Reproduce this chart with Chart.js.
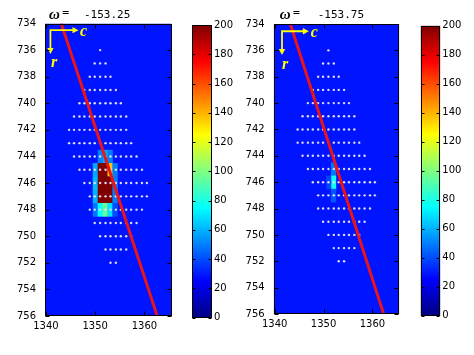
<!DOCTYPE html>
<html>
<head>
<meta charset="utf-8">
<script src="https://cdn.jsdelivr.net/npm/chart.js@4.4.1/dist/chart.umd.min.js"></script>
<style>
html,body{margin:0;padding:0;background:#fff;}
#wrap{position:relative;width:474px;height:355px;overflow:hidden;background:#fff;}
canvas{position:absolute;top:0;}
</style>
</head>
<body>
<div id="wrap">
<canvas id="heatL" width="190" height="355" style="left:0px"></canvas>
<canvas id="cbL" width="62" height="355" style="left:175px"></canvas>
<canvas id="heatR" width="190" height="355" style="left:229px"></canvas>
<canvas id="cbR" width="70" height="355" style="left:404px"></canvas>
</div>
<script>
// ---------------- data ----------------
const omegaValues = ['-153.25', '-153.75'];
const xTicks = [1340, 1350, 1360];
const yTicks = [734, 736, 738, 740, 742, 744, 746, 748, 750, 752, 754, 756];
const colorbarTicks = [0, 20, 40, 60, 80, 100, 120, 140, 160, 180, 200];
const backgroundLevel = 29;

// lattice of predicted spot columns and the rows they occupy
const dotLatticeX = [1344.7, 1345.7, 1346.8, 1347.8, 1348.9, 1349.9, 1351.0, 1352.1,
                     1353.1, 1354.2, 1355.2, 1356.3, 1357.3, 1358.4, 1359.5, 1360.5];
const dotRowY     = [736, 737, 738, 739, 740, 741, 742, 743, 744, 745, 746, 747, 748, 749, 750, 751, 752];
const dotRowFirst = [6, 5, 4, 3, 2, 1, 0, 0, 1, 2, 3, 4, 4, 5, 6, 7, 8];
const dotRowLast  = [6, 7, 8, 9, 10, 11, 11, 12, 13, 14, 15, 15, 14, 13, 12, 11, 9];

// bright cells (column, row, intensity)
const hotLeftX = [1351, 1352, 1353,
                  1350, 1351, 1352, 1353, 1354,
                  1350, 1351, 1352, 1353, 1354,
                  1350, 1351, 1352, 1353, 1354,
                  1350, 1351, 1352, 1353, 1354];
const hotLeftY = [744, 744, 744,
                  745, 745, 745, 745, 745,
                  746, 746, 746, 746, 746,
                  747, 747, 747, 747, 747,
                  748, 748, 748, 748, 748];
const hotLeftV = [50, 58, 50,
                  58, 200, 200, 135, 50,
                  62, 200, 200, 200, 50,
                  60, 200, 200, 200, 50,
                  48, 75, 95, 70, 40];
const hotRightX = [1352, 1352, 1352, 1351];
const hotRightY = [745, 746, 747, 746];
const hotRightV = [48, 78, 42, 38];

// red trace lines
const lineLeftX = [1343.1, 1362.6];
const lineLeftY = [734, 756];
const lineRightX = [1343.2, 1362.3];
const lineRightY = [734, 756];

// ---------------- helpers ----------------
function jet(v) {
  const t = Math.max(0, Math.min(1, v / 200));
  const c = u => Math.round(255 * Math.max(0, Math.min(1, u)));
  return `rgb(${c(1.5 - Math.abs(4 * t - 3))},${c(1.5 - Math.abs(4 * t - 2))},${c(1.5 - Math.abs(4 * t - 1))})`;
}
const TICK_FONT = {family: 'DejaVu Sans', size: 10};

function heatChart(id, p) {
  const dots = [];
  dotRowY.forEach((y, r) => {
    for (let i = dotRowFirst[r]; i <= dotRowLast[r]; i++) dots.push({x: dotLatticeX[i], y: y});
  });
  const line = p.lineX.map((x, i) => ({x: x, y: p.lineY[i]}));

  const plugin = {
    id: 'heat_' + id,
    beforeDatasetsDraw(chart) {
      const {ctx, chartArea: a} = chart;
      const sx = chart.scales.x, sy = chart.scales.y;
      ctx.save();
      ctx.beginPath();
      ctx.rect(a.left, a.top, a.right - a.left, a.bottom - a.top);
      ctx.clip();
      ctx.fillStyle = jet(backgroundLevel);
      ctx.fillRect(a.left, a.top, a.right - a.left, a.bottom - a.top);
      p.cellX.forEach((cx, i) => {
        const x0 = sx.getPixelForValue(cx - 0.5), x1 = sx.getPixelForValue(cx + 0.5);
        const y0 = sy.getPixelForValue(p.cellY[i] - 0.5), y1 = sy.getPixelForValue(p.cellY[i] + 0.5);
        ctx.fillStyle = jet(p.cellV[i]);
        ctx.fillRect(Math.min(x0, x1), Math.min(y0, y1), Math.abs(x1 - x0) + 0.4, Math.abs(y1 - y0) + 0.4);
      });
      ctx.restore();
    },
    afterDatasetsDraw(chart) {
      const {ctx} = chart;
      const sx = chart.scales.x, sy = chart.scales.y;
      const ar = p.arrow;
      const cx = sx.getPixelForValue(ar.x0), cy = sy.getPixelForValue(ar.y0);
      const hx = sx.getPixelForValue(ar.xTip), vy = sy.getPixelForValue(ar.yTip);
      ctx.save();
      ctx.strokeStyle = '#ffff00';
      ctx.fillStyle = '#ffff00';
      ctx.lineWidth = 1.8;
      ctx.beginPath();
      ctx.moveTo(hx - 5, cy); ctx.lineTo(cx, cy); ctx.lineTo(cx, vy - 5);
      ctx.stroke();
      ctx.beginPath();
      ctx.moveTo(hx, cy); ctx.lineTo(hx - 6, cy - 3.2); ctx.lineTo(hx - 6, cy + 3.2); ctx.closePath(); ctx.fill();
      ctx.beginPath();
      ctx.moveTo(cx, vy); ctx.lineTo(cx - 3.2, vy - 6); ctx.lineTo(cx + 3.2, vy - 6); ctx.closePath(); ctx.fill();
      ctx.font = 'italic bold 16px "Liberation Serif"';
      ctx.textBaseline = 'middle';
      ctx.textAlign = 'left';
      ctx.fillText('c', sx.getPixelForValue(ar.cX), sy.getPixelForValue(ar.cY));
      ctx.fillText('r', sx.getPixelForValue(ar.rX), sy.getPixelForValue(ar.rY));
      ctx.restore();
    },
    afterDraw(chart) {
      const {ctx, chartArea: a} = chart;
      const sx = chart.scales.x, sy = chart.scales.y;
      const L = Math.round(a.left) + 0.5, R = Math.round(a.right) - 0.5;
      const T = Math.round(a.top) + 0.5, B = Math.round(a.bottom) - 0.5;
      ctx.save();
      ctx.strokeStyle = '#000';
      ctx.lineWidth = 1;
      ctx.strokeRect(L, T, R - L, B - T);
      ctx.beginPath();
      xTicks.forEach(v => {
        const x = Math.round(sx.getPixelForValue(v)) + 0.5;
        ctx.moveTo(x, B); ctx.lineTo(x, B - 4);
        ctx.moveTo(x, T); ctx.lineTo(x, T + 4);
      });
      yTicks.forEach(v => {
        const y = Math.round(sy.getPixelForValue(v)) + 0.5;
        ctx.moveTo(L, y); ctx.lineTo(L + 4, y);
        ctx.moveTo(R, y); ctx.lineTo(R - 4, y);
      });
      ctx.stroke();
      // title
      ctx.fillStyle = '#000';
      ctx.textBaseline = 'middle';
      ctx.textAlign = 'left';
      ctx.font = 'italic bold 15px "Liberation Serif"';
      ctx.fillText('\u03c9', a.left + p.title.omega, 15);
      ctx.font = 'bold 13px "Liberation Serif"';
      ctx.fillText('=', a.left + p.title.eq, 14);
      ctx.font = '11px "DejaVu Sans Mono"';
      ctx.fillText(p.title.text, a.left + p.title.num, 15);
      ctx.restore();
    }
  };

  return new Chart(document.getElementById(id), {
    type: 'scatter',
    data: {
      datasets: [
        {data: line, showLine: true, borderColor: '#e8141c', borderWidth: 3, pointRadius: 0, fill: false, tension: 0},
        {data: dots, showLine: false, pointRadius: 1.2, pointBackgroundColor: '#dcdcf4', pointBorderWidth: 0}
      ]
    },
    options: {
      responsive: false,
      animation: false,
      devicePixelRatio: 1,
      events: [],
      layout: {padding: {top: p.padTop, right: p.padRight, left: 0, bottom: 0}},
      plugins: {legend: {display: false}, tooltip: {enabled: false}},
      scales: {
        x: {
          type: 'linear', min: 1339.8, max: 1365.5,
          afterBuildTicks: s => { s.ticks = xTicks.map(v => ({value: v})); },
          afterFit: s => { s.height = p.xAxisH; },
          grid: {display: false, drawTicks: false},
          border: {display: false},
          ticks: {padding: 4, color: '#000', font: TICK_FONT, maxRotation: 0, autoSkip: false, callback: v => String(v)}
        },
        y: {
          type: 'linear', reverse: true, min: 734, max: 756,
          afterBuildTicks: s => { s.ticks = yTicks.map(v => ({value: v})); },
          afterFit: s => { s.width = p.yAxisW; },
          grid: {display: false, drawTicks: false},
          border: {display: false},
          ticks: {padding: 9, color: '#000', font: TICK_FONT, autoSkip: false, callback: v => String(v)}
        }
      }
    },
    plugins: [plugin]
  });
}

function colorbarChart(id, q) {
  const frame = {
    id: 'cb_' + id,
    afterDraw(chart) {
      const {ctx, chartArea: a} = chart;
      const sy = chart.scales.y;
      const L = Math.round(a.left) + 0.5, R = Math.round(a.right) - 0.5;
      const T = Math.round(a.top) + 0.5, B = Math.round(a.bottom) - 0.5;
      ctx.save();
      ctx.strokeStyle = '#000';
      ctx.lineWidth = 1;
      ctx.strokeRect(L, T, R - L, B - T);
      ctx.beginPath();
      colorbarTicks.forEach(v => {
        const y = Math.round(sy.getPixelForValue(v)) + 0.5;
        ctx.moveTo(L, y); ctx.lineTo(L + 3, y);
        ctx.moveTo(R, y); ctx.lineTo(R - 3, y);
      });
      ctx.stroke();
      ctx.restore();
    }
  };
  return new Chart(document.getElementById(id), {
    type: 'bar',
    data: {
      labels: [''],
      datasets: [{
        data: [[colorbarTicks[0], colorbarTicks[colorbarTicks.length - 1]]],
        borderWidth: 0,
        barPercentage: 1,
        categoryPercentage: 1,
        backgroundColor: ctx => {
          const chart = ctx.chart;
          if (!chart.chartArea) return jet(100);
          const sy = chart.scales.y;
          const g = chart.ctx.createLinearGradient(0, sy.getPixelForValue(0), 0, sy.getPixelForValue(200));
          [0, 0.125, 0.375, 0.625, 0.875, 1].forEach(f => g.addColorStop(f, jet(f * 200)));
          return g;
        }
      }]
    },
    options: {
      responsive: false,
      animation: false,
      devicePixelRatio: 1,
      events: [],
      layout: {padding: {left: q.padLeft, top: q.padTop, bottom: q.padBottom, right: 0}},
      plugins: {legend: {display: false}, tooltip: {enabled: false}},
      scales: {
        x: {display: false},
        y: {
          position: 'right', min: 0, max: 200,
          afterBuildTicks: s => { s.ticks = colorbarTicks.map(v => ({value: v})); },
          afterFit: s => { s.width = q.axisW; },
          grid: {display: false, drawTicks: false},
          border: {display: false},
          ticks: {padding: 2, color: '#000', font: TICK_FONT, autoSkip: false, callback: v => String(v)}
        }
      }
    },
    plugins: [frame]
  });
}

heatChart('heatL', {
  cellX: hotLeftX, cellY: hotLeftY, cellV: hotLeftV,
  lineX: lineLeftX, lineY: lineLeftY,
  padTop: 23.5, padRight: 18.5, xAxisH: 39, yAxisW: 45,
  arrow: {x0: 1340.9, y0: 734.5, xTip: 1346.6, yTip: 736.3, cX: 1346.9, cY: 734.6, rX: 1341.0, rY: 736.95},
  title: {omega: 4, eq: 17, num: 39, text: omegaValues[0]}
});
colorbarChart('cbL', {padLeft: 17, padTop: 25, padBottom: 37.3, axisW: 25});
heatChart('heatR', {
  cellX: hotRightX, cellY: hotRightY, cellV: hotRightV,
  lineX: lineRightX, lineY: lineRightY,
  padTop: 24, padRight: 19.7, xAxisH: 41, yAxisW: 44.7,
  arrow: {x0: 1341.5, y0: 734.55, xTip: 1347.0, yTip: 736.35, cX: 1347.4, cY: 734.7, rX: 1341.5, rY: 737.1},
  title: {omega: 6, eq: 19, num: 44, text: omegaValues[1]}
});
colorbarChart('cbR', {padLeft: 16.7, padTop: 25.7, padBottom: 39.3, axisW: 33.7});
</script>
</body>
</html>
